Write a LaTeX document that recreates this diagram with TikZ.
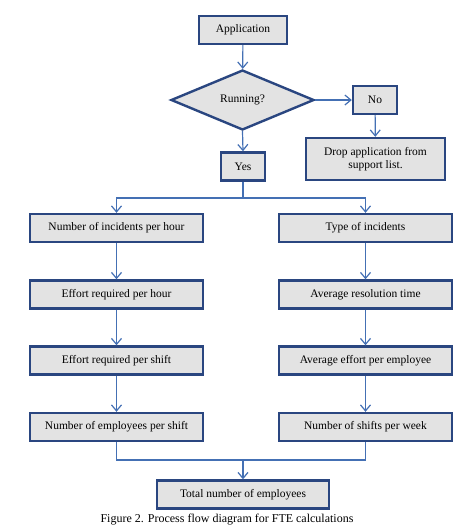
\documentclass[tikz,border=0pt]{standalone}
\usepackage{fontspec}
\setmainfont{Liberation Serif}
\definecolor{FTEnavy}{HTML}{2A4680}
\definecolor{FTEblue}{HTML}{4470B4}
\definecolor{FTEgray}{HTML}{E3E3E3}
\usetikzlibrary{arrows.meta, shapes.geometric, positioning}

\begin{document}
\begin{tikzpicture}[x=1pt, y=-1pt,
      box/.style={draw=FTEnavy, fill=FTEgray, line width=2.4pt, inner sep=0pt,
         minimum width=173pt, minimum height=28pt, font=\fontsize{11.5}{13}\selectfont},
      decision/.style={diamond, draw=FTEnavy, fill=FTEgray, line width=2.4pt, inner sep=0pt,
         minimum width=143pt, minimum height=60pt, font=\fontsize{11.5}{13}\selectfont},
      flow/.style={FTEblue, line width=1.2pt, -{Straight Barb[length=6pt, width=10pt]}},
      link/.style={FTEblue, line width=1.2pt}]
      \useasboundingbox (0,0) rectangle (474,528);
      % Top: application check
      \node[box, minimum width=88pt] (app) at (243,30) {Application};
      \node[decision] (run) at (242.5,100) {Running?};
      \node[box, minimum width=44pt] (yes) at (243,166.5) {Yes};
      \node[box, minimum width=44pt] (no) at (375,100) {No};
      \node[box, minimum width=139pt, minimum height=42pt, align=center] (drop) at (375.5,159)
         {Drop application from\\support list.};
      % Left column
      \node[box] (inc) at (116.5,228) {Number of incidents per hour};
      \node[box] (effhr) at (116.5,294.5) {Effort required per hour};
      \node[box] (effsh) at (116.5,360.5) {Effort required per shift};
      \node[box] (emp) at (116.5,427) {Number of employees per shift};
      % Right column
      \node[box] (type) at (365.5,228) {Type of incidents};
      \node[box] (res) at (365.5,294.5) {Average resolution time};
      \node[box] (avg) at (365.5,360.5) {Average effort per employee};
      \node[box] (shifts) at (365.5,427) {Number of shifts per week};
      % Bottom
      \node[box, minimum width=172pt] (total) at (243,494.5) {Total number of employees};
      \node[font=\fontsize{12}{14}\selectfont] (caption) at (227,520)
         {Figure 2. Process flow diagram for FTE calculations};
      \coordinate (split) at (243,198);
      \coordinate (merge) at (243,460);
      % Connectors
      \draw[flow] (app) -- (run);
      \draw[flow] (run.east) -- (no.west);
      \draw[flow] (run.south) -- (yes.north);
      \draw[flow] (no) -- (drop);
      \draw[link] (yes.south) -- (split);
      \draw[flow] (split) -| (inc.north);
      \draw[flow] (split) -| (type.north);
      \draw[flow] (inc) -- (effhr);
      \draw[flow] (effhr) -- (effsh);
      \draw[flow] (effsh) -- (emp);
      \draw[flow] (type) -- (res);
      \draw[flow] (res) -- (avg);
      \draw[flow] (avg) -- (shifts);
      \draw[link] (emp.south) |- (merge) -| (shifts.south);
      \draw[flow] (merge) -- (total.north);
   \end{tikzpicture}
\end{document}
